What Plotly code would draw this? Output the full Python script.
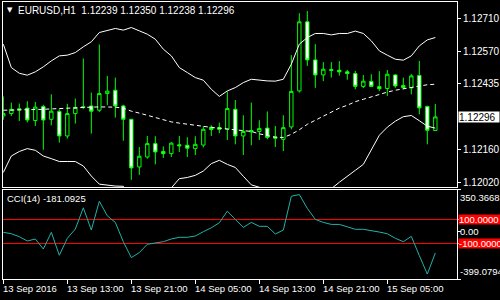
import plotly.graph_objects as go

# ---------------- data ----------------
bars = list(range(55))  # H1 bars from 13 Sep 2016 05:00

open_ = [1.12300, 1.12310, 1.12330, 1.12333, 1.12281, 1.12340, 1.12286, 1.12319, 1.12216, 1.12310,
         1.12339, 1.12342, 1.12324, 1.12394, 1.12408, 1.12342, 1.12286, 1.12086, 1.12128, 1.12184,
         1.12151, 1.12142, 1.12179, 1.12177, 1.12163, 1.12178, 1.12253, 1.12251, 1.12244, 1.12328,
         1.12216, 1.12239, 1.12235, 1.12249, 1.12212, 1.12202, 1.12254, 1.12405, 1.12695, 1.12535,
         1.12472, 1.12495, 1.12492, 1.12485, 1.12478, 1.12424, 1.12445, 1.12423, 1.12415, 1.12472,
         1.12428, 1.12418, 1.12470, 1.12340, 1.12239]
high = [1.12382, 1.12356, 1.12352, 1.12362, 1.12359, 1.12347, 1.12391, 1.12328, 1.12351, 1.12373,
        1.12541, 1.12398, 1.12600, 1.12468, 1.12461, 1.12347, 1.12288, 1.12170, 1.12216, 1.12215,
        1.12172, 1.12190, 1.12216, 1.12211, 1.12215, 1.12258, 1.12261, 1.12272, 1.12403, 1.12367,
        1.12303, 1.12356, 1.12282, 1.12319, 1.12258, 1.12303, 1.12555, 1.12731, 1.12740, 1.12601,
        1.12526, 1.12526, 1.12530, 1.12493, 1.12489, 1.12472, 1.12475, 1.12488, 1.12493, 1.12475,
        1.12461, 1.12475, 1.12531, 1.12343, 1.12350]
low = [1.12284, 1.12300, 1.12279, 1.12273, 1.12258, 1.12158, 1.12261, 1.12188, 1.12205, 1.12268,
       1.12330, 1.12226, 1.12317, 1.12345, 1.12293, 1.12196, 1.12032, 1.12053, 1.12121, 1.12097,
       1.12124, 1.12128, 1.12149, 1.12128, 1.12136, 1.12168, 1.12216, 1.12228, 1.12199, 1.12181,
       1.12136, 1.12177, 1.12199, 1.12202, 1.12170, 1.12153, 1.12244, 1.12398, 1.12510, 1.12418,
       1.12446, 1.12461, 1.12469, 1.12452, 1.12412, 1.12417, 1.12423, 1.12404, 1.12384, 1.12418,
       1.12412, 1.12391, 1.12307, 1.12181, 1.12238]
close = [1.12310, 1.12328, 1.12326, 1.12283, 1.12337, 1.12283, 1.12320, 1.12216, 1.12310, 1.12336,
         1.12336, 1.12320, 1.12394, 1.12404, 1.12342, 1.12286, 1.12082, 1.12131, 1.12184, 1.12149,
         1.12142, 1.12186, 1.12175, 1.12165, 1.12181, 1.12244, 1.12243, 1.12244, 1.12331, 1.12216,
         1.12235, 1.12233, 1.12247, 1.12210, 1.12207, 1.12251, 1.12403, 1.12695, 1.12535, 1.12472,
         1.12496, 1.12491, 1.12485, 1.12478, 1.12424, 1.12446, 1.12424, 1.12414, 1.12475, 1.12426,
         1.12419, 1.12468, 1.12334, 1.12240, 1.12296]

bb_upper = [1.12601, 1.12503, 1.12479, 1.12471, 1.12485, 1.12506, 1.12531, 1.12552, 1.12555, 1.12566,
            1.12590, 1.12611, 1.12650, 1.12657, 1.12667, 1.12660, 1.12671, 1.12657, 1.12643, 1.12622,
            1.12580, 1.12552, 1.12503, 1.12482, 1.12461, 1.12450, 1.12412, 1.12382, 1.12405, 1.12419,
            1.12440, 1.12454, 1.12450, 1.12447, 1.12446, 1.12454, 1.12517, 1.12601, 1.12629, 1.12646,
            1.12646, 1.12640, 1.12646, 1.12646, 1.12656, 1.12646, 1.12615, 1.12573, 1.12555, 1.12538,
            1.12534, 1.12552, 1.12594, 1.12619, 1.12629]
bb_middle = [1.12324, 1.12324, 1.12324, 1.12325, 1.12327, 1.12328, 1.12330, 1.12330, 1.12331, 1.12333,
             1.12336, 1.12337, 1.12338, 1.12338, 1.12337, 1.12333, 1.12320, 1.12312, 1.12303, 1.12291,
             1.12282, 1.12275, 1.12270, 1.12265, 1.12261, 1.12256, 1.12252, 1.12249, 1.12246, 1.12244,
             1.12238, 1.12235, 1.12225, 1.12217, 1.12211, 1.12210, 1.12223, 1.12242, 1.12265, 1.12282,
             1.12299, 1.12318, 1.12333, 1.12345, 1.12360, 1.12370, 1.12381, 1.12391, 1.12400, 1.12408,
             1.12414, 1.12421, 1.12427, 1.12431, 1.12433]
bb_lower = [1.12063, 1.12132, 1.12151, 1.12163, 1.12156, 1.12132, 1.12121, 1.12109, 1.12109, 1.12109,
            1.12090, 1.12048, 1.12014, 1.12009, 1.12006, 1.12005, 1.11969, 1.11966, 1.11963, 1.11959,
            1.11984, 1.11998, 1.12037, 1.12042, 1.12051, 1.12069, 1.12100, 1.12114, 1.12097, 1.12084,
            1.12047, 1.12011, 1.12001, 1.11983, 1.11976, 1.11967, 1.11930, 1.11883, 1.11901, 1.11918,
            1.11952, 1.11995, 1.12022, 1.12049, 1.12072, 1.12097, 1.12160, 1.12219, 1.12253, 1.12278,
            1.12297, 1.12302, 1.12280, 1.12257, 1.12249]

cci = [-8, -20, -45, -81, -64, -148, -8, -200, -58, 19,
       197, 11, 252, 130, 75, -87, -220, -178, -108, -100,
       -87, -64, -50, -50, -39, -3, 30, 72, 169, 100,
       33, 75, 42, 42, -22, 11, 294, 308, 192, 100,
       75, 58, 58, 38, 17, 17, 8, -6, -20, -58,
       -87, -42, -203, -358, -181.0925]

price_ticks = [1.12710, 1.12570, 1.12435, 1.12160, 1.12020]
price_tick_text = ["1.12710", "1.12570", "1.12435", "1.12160", "1.12020"]
last_price = 1.12296
price_range = [1.12002, 1.12778]

cci_max = 350.3668
cci_min = -399.0794
cci_levels = [100, -100]

time_tick_bars = [0, 8, 16, 24, 32, 40, 48]
time_tick_text = ["13 Sep 2016", "13 Sep 13:00", "13 Sep 21:00", "14 Sep 05:00",
                  "14 Sep 13:00", "14 Sep 21:00", "15 Sep 05:00"]

title_text = "EURUSD,H1\u00a0 1.12239 1.12350 1.12238 1.12296"
cci_text = "CCI(14) -181.0925"

# ---------------- styling ----------------
FONT = "Liberation Sans"
GREEN = "#00FF00"
CCI_COLOR = "#20B2AA"
x_range = [-0.04, 56.71]

fig = go.Figure()

fig.add_trace(go.Candlestick(
    x=bars, open=open_, high=high, low=low, close=close,
    increasing=dict(line=dict(color=GREEN, width=1), fillcolor="black"),
    decreasing=dict(line=dict(color=GREEN, width=1), fillcolor="white"),
    whiskerwidth=0, xaxis="x", yaxis="y", hoverinfo="skip"))

fig.add_trace(go.Scatter(x=bars, y=bb_upper, mode="lines",
                         line=dict(color="white", width=1), xaxis="x", yaxis="y", hoverinfo="skip"))
fig.add_trace(go.Scatter(x=bars, y=bb_lower, mode="lines",
                         line=dict(color="white", width=1), xaxis="x", yaxis="y", hoverinfo="skip"))
fig.add_trace(go.Scatter(x=bars, y=bb_middle, mode="lines",
                         line=dict(color="white", width=1, dash="4px,3px"),
                         xaxis="x", yaxis="y", hoverinfo="skip"))

fig.add_trace(go.Scatter(x=bars, y=cci, mode="lines",
                         line=dict(color=CCI_COLOR, width=1), xaxis="x2", yaxis="y2", hoverinfo="skip"))

axis_common = dict(showgrid=False, zeroline=False, showline=True, linecolor="white",
                   linewidth=1, mirror=True)

fig.update_layout(
    template="none",
    width=500, height=300,
    margin=dict(l=3, r=43, t=2, b=21),
    paper_bgcolor="black", plot_bgcolor="black",
    showlegend=False, boxgap=0.4,
    font=dict(family=FONT, color="white", size=10),
    xaxis=dict(domain=[0, 1], range=x_range, anchor="y", showticklabels=False, ticks="",
               rangeslider=dict(visible=False), **axis_common),
    yaxis=dict(domain=[0.3321, 1], range=price_range, anchor="x", side="right",
               tickvals=price_ticks, ticktext=price_tick_text, ticks="outside", ticklen=3,
               tickcolor="white", tickfont=dict(family=FONT, color="white", size=10),
               **axis_common),
    xaxis2=dict(domain=[0, 1], range=x_range, anchor="y2", tickvals=time_tick_bars,
                showticklabels=False, ticks="outside", ticklen=4, tickcolor="white",
                **axis_common),
    yaxis2=dict(domain=[0, 0.3231], range=[cci_min, cci_max], anchor="x2", side="right",
                tickvals=[cci_max, 100, 0, -100, cci_min], showticklabels=False,
                ticks="outside", ticklen=3, tickcolor="white",
                minor=dict(tickvals=cci_levels, showgrid=True, gridcolor="#FF0000",
                           gridwidth=1, ticks=""),
                **axis_common),
)

ann = []
# header
ann.append(dict(text="\u25BC", xref="paper", yref="paper", x=0, y=1, xanchor="left", yanchor="top",
                xshift=2, yshift=-2, showarrow=False, font=dict(family="DejaVu Sans", size=7, color="white")))
ann.append(dict(text=title_text, xref="paper", yref="paper", x=0, y=1, xanchor="left", yanchor="top",
                xshift=13, yshift=-1, showarrow=False, font=dict(family=FONT, size=10, color="white")))
ann.append(dict(text=cci_text, xref="paper", yref="paper", x=0, y=0.3231, xanchor="left", yanchor="top",
                xshift=2, yshift=-1, showarrow=False, font=dict(family=FONT, size=9.5, color="white")))
# last price box
ann.append(dict(text=f"{last_price:.5f}", xref="paper", yref="y", x=1, y=last_price, xanchor="left",
                yanchor="middle", xshift=1, showarrow=False, bgcolor="white", width=40, height=10,
                align="left", borderpad=0, font=dict(family=FONT, size=10, color="black")))
# CCI right labels
ann.append(dict(text=f"{cci_max:.4f}", xref="paper", yref="y2", x=1, y=cci_max, xanchor="left",
                yanchor="top", xshift=1, showarrow=False, font=dict(family=FONT, size=9.5, color="white")))
ann.append(dict(text=f"{cci_min:.4f}", xref="paper", yref="y2", x=1, y=cci_min, xanchor="left",
                yanchor="bottom", xshift=1, showarrow=False, font=dict(family=FONT, size=9.5, color="white")))
ann.append(dict(text="0.00", xref="paper", yref="y2", x=1, y=0, xanchor="left",
                yanchor="middle", xshift=1, showarrow=False, font=dict(family=FONT, size=9.5, color="white")))
for lv in cci_levels:
    ann.append(dict(text=f"{lv:.4f}", xref="paper", yref="y2", x=1, y=lv, xanchor="left",
                    yanchor="middle", xshift=1, showarrow=False, bgcolor="#FF0000", width=42, height=9,
                    align="left", borderpad=0, font=dict(family=FONT, size=9.5, color="white")))
# time labels
for b, t in zip(time_tick_bars, time_tick_text):
    ann.append(dict(text=t, xref="x2", yref="paper", x=b, y=0, xanchor="left", yanchor="top",
                    yshift=-2, xshift=-2, showarrow=False, font=dict(family=FONT, size=9.5, color="white")))

fig.update_layout(annotations=ann)

fig.write_html("out.html")
